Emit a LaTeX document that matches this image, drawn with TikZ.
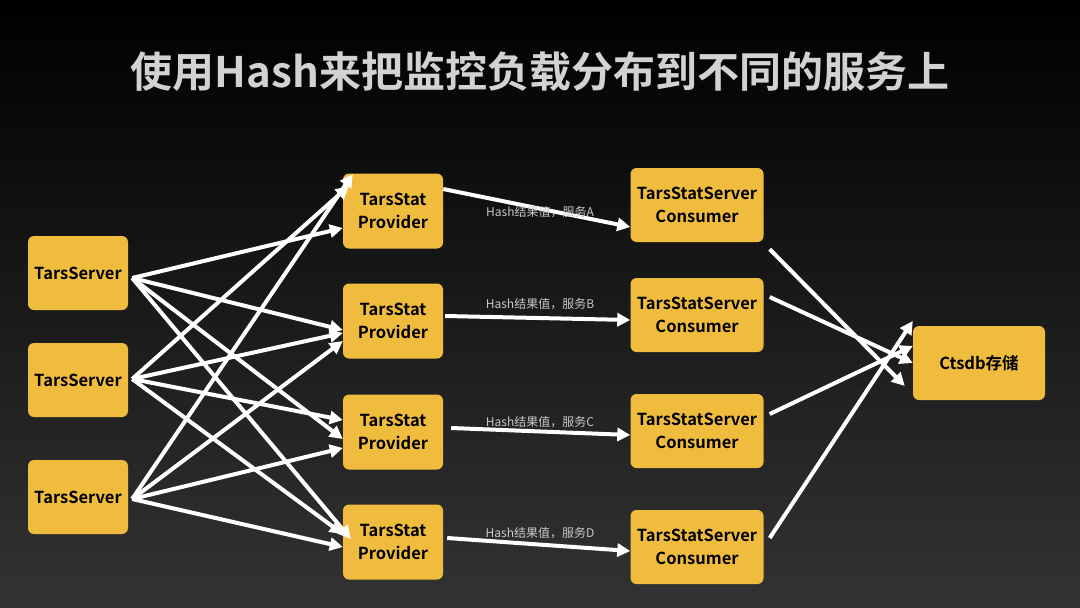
\documentclass[tikz,border=0pt]{standalone}
\usepackage{fontspec}
\setmainfont{Noto Sans CJK SC}
\newfontfamily\cjkb{Noto Sans CJK SC Bold}
\usetikzlibrary{arrows.meta}
\begin{document}
\begin{tikzpicture}[x=1pt,y=-1pt,
  box/.style={fill=boxc,rounded corners=6pt,font=\cjkb\fontsize{16.5}{23}\selectfont,align=center,inner sep=0pt},
  arr/.style={white,line width=4pt,-{Triangle[length=13pt,width=13pt]}},
  lab/.style={text=labc,font=\fontsize{12}{14}\selectfont}]
\definecolor{boxc}{HTML}{F0BC3E}
\definecolor{labc}{HTML}{C8C8C8}
\definecolor{titc}{HTML}{D2D2D2}
\shade[top color=black,bottom color=black!80!white] (0,0) rectangle (1080,608);
\useasboundingbox (0,0) rectangle (1080,608);
\node[text=titc,font=\cjkb\fontsize{42}{46}\selectfont] (title) at (540,72) {使用Hash来把监控负载分布到不同的服务上};
\foreach \n/\y in {s1/273,s2/380,s3/497}
  \node[box,minimum width=100pt,minimum height=74pt] (\n) at (78,\y) {TarsServer};
\foreach \n/\y in {p1/211,p2/321,p3/432,p4/542}
  \node[box,minimum width=100pt,minimum height=75pt] (\n) at (393,\y) {TarsStat\\Provider};
\foreach \n/\y in {c1/205,c2/315,c3/431,c4/547}
  \node[box,minimum width=133pt,minimum height=74pt] (\n) at (697,\y) {TarsStatServer\\Consumer};
\node[box,minimum width=132pt,minimum height=74pt] (db) at (979,363) {Ctsdb存储};
% server -> provider
\draw[arr] ([shift={(4,5)}]s1.east) -- ([yshift=-17]p1.west);
\draw[arr] ([shift={(4,5)}]s1.east) -- ([yshift=-9]p2.west);
\draw[arr] ([shift={(4,5)}]s1.east) -- ([shift={(0,7)}]p3.west);
\draw[arr] ([shift={(4,5)}]s1.east) -- ([shift={(8,-3)}]p4.west);
\draw[arr] ([shift={(4,-1)}]s2.east) -- ([shift={(6,-25)}]p1.west);
\draw[arr] ([shift={(4,-1)}]s2.east) -- ([yshift=-12]p2.west);
\draw[arr] ([shift={(4,-1)}]s2.east) -- ([yshift=12]p3.west);
\draw[arr] ([shift={(4,-1)}]s2.east) -- ([yshift=8]p4.west);
\draw[arr] ([shift={(4,2)}]s3.east) -- ([shift={(10,-37)}]p1.west);
\draw[arr] ([shift={(4,2)}]s3.east) -- ([yshift=-20]p2.west);
\draw[arr] ([shift={(4,2)}]s3.east) -- ([yshift=-16]p3.west);
\draw[arr] ([shift={(4,2)}]s3.east) -- ([yshift=-5]p4.west);
% provider -> consumer
\foreach \i/\d/\e in {1/0/-22,2/2/-5,3/8/-4,4/4/-4}
  \draw[arr] ([shift={(\d,\e)}]p\i.east) -- ([yshift=\e]c\i.west);
\node[lab] (la) at (540,212) {Hash结果值，服务A};
\node[lab] (lb) at (540,304) {Hash结果值，服务B};
\node[lab] (lc) at (540,422) {Hash结果值，服务C};
\node[lab] (ld) at (540,533) {Hash结果值，服务D};
% consumer -> db
\draw[arr] ([shift={(6,7)}]c1.south east) -- ([shift={(-8,23)}]db.west);
\draw[arr] ([shift={(6,-18)}]c2.east) -- ([shift={(0,0)}]db.west);
\draw[arr] ([shift={(6,-17)}]c3.east) -- ([shift={(0,-17)}]db.west);
\draw[arr] ([shift={(6,-9)}]c4.east) -- ([shift={(0,-42)}]db.west);
\end{tikzpicture}
\end{document}
